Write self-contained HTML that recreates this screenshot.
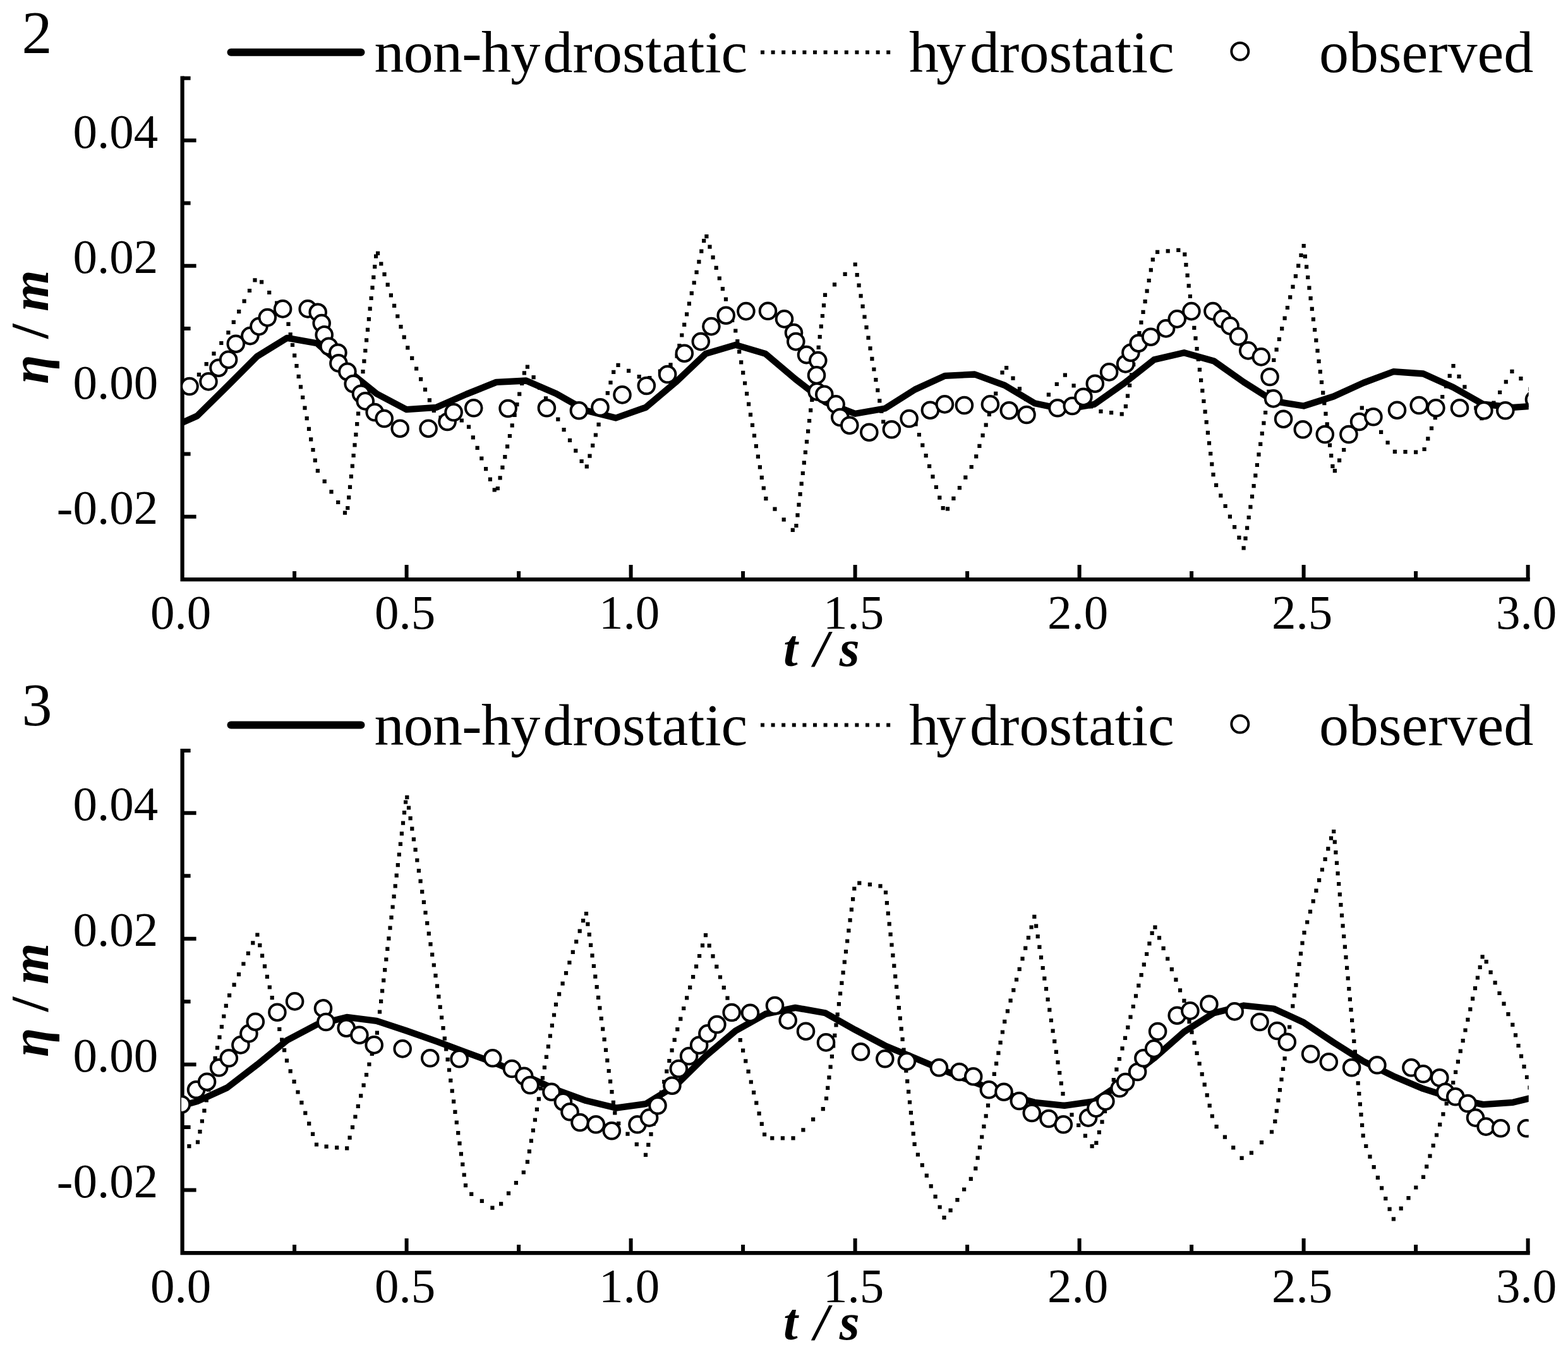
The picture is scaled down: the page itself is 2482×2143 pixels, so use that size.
<!DOCTYPE html>
<html lang="en">
<head>
<meta charset="utf-8">
<title>Free surface elevation at gauges 2 and 3: non-hydrostatic, hydrostatic and observed</title>
<style>
html,body{margin:0;padding:0;background:#fff;}
body{width:2482px;height:2143px;overflow:hidden;}
svg{display:block;}
text{font-family:"Liberation Serif","Times New Roman",Times,serif;fill:#000;}
.tk{font-size:77px;}
.lg{font-size:94px;}
.pl{font-size:96px;}
.xt{font-size:82px;font-weight:bold;font-style:italic;}
.yt{font-size:84px;font-weight:bold;font-style:italic;}
.up{font-style:normal;}
.obs circle{fill:#fff;stroke:#000;stroke-width:4;}
.non{fill:none;stroke:#000;stroke-width:10.3;stroke-linejoin:round;}
.hyd{fill:#000;}
</style>
</head>
<body>
<svg xmlns="http://www.w3.org/2000/svg" width="2482" height="2143" viewBox="0 0 2482 2143">
<rect width="2482" height="2143" fill="#fff"/>
<clipPath id="plot"><rect x="287" y="0" width="2132.7" height="2143"/></clipPath>
<g id="gauge2">
<path d="M288.6,120.6 V917.1 H2421.7" fill="none" stroke="#000" stroke-width="6.2" stroke-linejoin="miter"/>
<path d="M288.6,817.8h22M288.6,718.6h13M288.6,619.3h22M288.6,520h13M288.6,420.8h22M288.6,321.5h13M288.6,222.3h22M288.6,123.7h13M466.1,917.1v-13M643.6,917.1v-23M821.1,917.1v-13M998.6,917.1v-23M1176.1,917.1v-13M1353.6,917.1v-23M1531.1,917.1v-13M1708.6,917.1v-23M1886.1,917.1v-13M2063.6,917.1v-23M2241.1,917.1v-13M2418.6,917.1v-23" fill="none" stroke="#000" stroke-width="6.0"/>
<g class="tk" text-anchor="end">
<text x="250.2" y="233.6">0.04</text>
<text x="250.2" y="432.1">0.02</text>
<text x="250.2" y="630.6">0.00</text>
<text x="250.2" y="829.1">-0.02</text>
</g>
<g class="tk" text-anchor="middle">
<text x="286.1" y="994.7">0.0</text>
<text x="641.1" y="994.7">0.5</text>
<text x="996.1" y="994.7">1.0</text>
<text x="1351.1" y="994.7">1.5</text>
<text x="1706.1" y="994.7">2.0</text>
<text x="2061.1" y="994.7">2.5</text>
<text x="2416.1" y="994.7">3.0</text>
</g>
<text class="xt" x="1239.9 1265 1288.7 1312 1328.8" y="1053.8">t / s</text>
<text class="yt" transform="translate(76.3,607.7) rotate(-90)" x="0 43 71.8 95 115" y="0">η<tspan class="up"> / </tspan>m</text>
<text class="pl" x="34.5" y="83.7">2</text>
<line x1="365.5" y1="82.8" x2="571.5" y2="82.8" stroke="#000" stroke-width="12" stroke-linecap="round"/>
<text class="lg" y="113.8"><tspan x="592.5" textLength="262.7">non-hy</tspan><tspan x="859.6">drostatic</tspan></text>
<line x1="1204" y1="82.8" x2="1411" y2="82.8" stroke="#000" stroke-width="6" stroke-dasharray="6 10.6"/>
<text class="lg" y="113.8"><tspan x="1439.1" textLength="90">hy</tspan><tspan x="1535.1">drostatic</tspan></text>
<circle cx="1962.8" cy="81.3" r="13.5" fill="#fff" stroke="#000" stroke-width="4"/>
<text class="lg" x="2088" y="113.8">observed</text>
<g clip-path="url(#plot)">
<path class="hyd" d="M296.3,606.2h6.2v6.2h-6.2zM311.8,589.7h6.2v6.2h-6.2zM323.6,573.1h6.2v6.2h-6.2zM335.4,556.5h6.2v6.2h-6.2zM347.2,539.9h6.2v6.2h-6.2zM358.3,523.3h6.2v6.2h-6.2zM366.7,506.7h6.2v6.2h-6.2zM375.1,490.1h6.2v6.2h-6.2zM383.5,473.5h6.2v6.2h-6.2zM391.9,456.9h6.2v6.2h-6.2zM400.4,440.3h6.2v6.2h-6.2zM411,443.3h6.2v6.2h-6.2zM423.1,459.9h6.2v6.2h-6.2zM435.1,476.5h6.2v6.2h-6.2zM447.2,493.1h6.2v6.2h-6.2zM453.4,509.7h6.2v6.2h-6.2zM456.6,526.3h6.2v6.2h-6.2zM459.9,542.9h6.2v6.2h-6.2zM463.1,559.5h6.2v6.2h-6.2zM466.4,576.1h6.2v6.2h-6.2zM469.6,592.7h6.2v6.2h-6.2zM472.9,609.3h6.2v6.2h-6.2zM476.1,625.9h6.2v6.2h-6.2zM479.4,642.5h6.2v6.2h-6.2zM482.6,659.1h6.2v6.2h-6.2zM485.9,675.7h6.2v6.2h-6.2zM489.1,692.3h6.2v6.2h-6.2zM492.4,708.9h6.2v6.2h-6.2zM495.7,725.5h6.2v6.2h-6.2zM499.8,742.1h6.2v6.2h-6.2zM510.6,758.7h6.2v6.2h-6.2zM521.4,775.3h6.2v6.2h-6.2zM532.1,791.9h6.2v6.2h-6.2zM542.9,808.5h6.2v6.2h-6.2zM547.2,800.9h6.2v6.2h-6.2zM549.1,784.3h6.2v6.2h-6.2zM550.9,767.7h6.2v6.2h-6.2zM552.8,751.1h6.2v6.2h-6.2zM554.7,734.5h6.2v6.2h-6.2zM556.5,717.9h6.2v6.2h-6.2zM558.4,701.3h6.2v6.2h-6.2zM560.3,684.7h6.2v6.2h-6.2zM562.1,668.1h6.2v6.2h-6.2zM564,651.5h6.2v6.2h-6.2zM565.9,634.9h6.2v6.2h-6.2zM567.7,618.3h6.2v6.2h-6.2zM569.6,601.7h6.2v6.2h-6.2zM571.4,585.1h6.2v6.2h-6.2zM573.3,568.5h6.2v6.2h-6.2zM575.2,551.9h6.2v6.2h-6.2zM577,535.3h6.2v6.2h-6.2zM578.9,518.7h6.2v6.2h-6.2zM580.8,502.1h6.2v6.2h-6.2zM582.6,485.5h6.2v6.2h-6.2zM584.5,468.9h6.2v6.2h-6.2zM586.4,452.3h6.2v6.2h-6.2zM588.2,435.7h6.2v6.2h-6.2zM590.1,419.1h6.2v6.2h-6.2zM592,402.5h6.2v6.2h-6.2zM595,397.8h6.2v6.2h-6.2zM600.2,414.4h6.2v6.2h-6.2zM605.4,431h6.2v6.2h-6.2zM610.6,447.6h6.2v6.2h-6.2zM615.8,464.2h6.2v6.2h-6.2zM621,480.8h6.2v6.2h-6.2zM626.2,497.4h6.2v6.2h-6.2zM631.4,514h6.2v6.2h-6.2zM636.6,530.6h6.2v6.2h-6.2zM642.2,547.2h6.2v6.2h-6.2zM649.1,563.8h6.2v6.2h-6.2zM656,580.4h6.2v6.2h-6.2zM663,597h6.2v6.2h-6.2zM669.9,613.6h6.2v6.2h-6.2zM676.8,630.2h6.2v6.2h-6.2zM683.7,646.8h6.2v6.2h-6.2zM694.5,657.7h6.2v6.2h-6.2zM711.1,660h6.2v6.2h-6.2zM727.7,662.4h6.2v6.2h-6.2zM738.9,672.6h6.2v6.2h-6.2zM745.7,689.2h6.2v6.2h-6.2zM752.5,705.8h6.2v6.2h-6.2zM759.2,722.4h6.2v6.2h-6.2zM766,739h6.2v6.2h-6.2zM772.8,755.6h6.2v6.2h-6.2zM779.6,772.2h6.2v6.2h-6.2zM784.7,769.9h6.2v6.2h-6.2zM788.5,753.3h6.2v6.2h-6.2zM792.3,736.7h6.2v6.2h-6.2zM796.2,720.1h6.2v6.2h-6.2zM800,703.5h6.2v6.2h-6.2zM803.8,686.9h6.2v6.2h-6.2zM807.6,670.3h6.2v6.2h-6.2zM811.5,653.7h6.2v6.2h-6.2zM815.3,637.1h6.2v6.2h-6.2zM819.1,620.5h6.2v6.2h-6.2zM823,603.9h6.2v6.2h-6.2zM826.8,587.3h6.2v6.2h-6.2zM831.8,577.5h6.2v6.2h-6.2zM841.5,594.1h6.2v6.2h-6.2zM851.2,610.7h6.2v6.2h-6.2zM860.9,627.3h6.2v6.2h-6.2zM870.6,643.9h6.2v6.2h-6.2zM880.2,660.5h6.2v6.2h-6.2zM889.5,677.1h6.2v6.2h-6.2zM898.9,693.7h6.2v6.2h-6.2zM908.2,710.3h6.2v6.2h-6.2zM917.5,726.9h6.2v6.2h-6.2zM925.7,735.2h6.2v6.2h-6.2zM930.4,718.6h6.2v6.2h-6.2zM935.1,702h6.2v6.2h-6.2zM939.8,685.4h6.2v6.2h-6.2zM944.5,668.8h6.2v6.2h-6.2zM949.3,652.2h6.2v6.2h-6.2zM954,635.6h6.2v6.2h-6.2zM958.7,619h6.2v6.2h-6.2zM963.4,602.4h6.2v6.2h-6.2zM968.1,585.8h6.2v6.2h-6.2zM975.4,574.7h6.2v6.2h-6.2zM992,583.8h6.2v6.2h-6.2zM1008.6,593h6.2v6.2h-6.2zM1025.2,595h6.2v6.2h-6.2zM1041.8,584.6h6.2v6.2h-6.2zM1058.4,574.2h6.2v6.2h-6.2zM1068.5,560.6h6.2v6.2h-6.2zM1072.3,544h6.2v6.2h-6.2zM1076.2,527.4h6.2v6.2h-6.2zM1080.1,510.8h6.2v6.2h-6.2zM1084,494.2h6.2v6.2h-6.2zM1087.8,477.6h6.2v6.2h-6.2zM1091.7,461h6.2v6.2h-6.2zM1095.6,444.4h6.2v6.2h-6.2zM1099.5,427.8h6.2v6.2h-6.2zM1103.3,411.2h6.2v6.2h-6.2zM1107.2,394.6h6.2v6.2h-6.2zM1111.1,378h6.2v6.2h-6.2zM1115.3,371h6.2v6.2h-6.2zM1120.4,387.6h6.2v6.2h-6.2zM1125.5,404.2h6.2v6.2h-6.2zM1130.6,420.8h6.2v6.2h-6.2zM1135.7,437.4h6.2v6.2h-6.2zM1140.8,454h6.2v6.2h-6.2zM1145.9,470.6h6.2v6.2h-6.2zM1151,487.2h6.2v6.2h-6.2zM1156.1,503.8h6.2v6.2h-6.2zM1161.2,520.4h6.2v6.2h-6.2zM1164.2,537h6.2v6.2h-6.2zM1167.1,553.6h6.2v6.2h-6.2zM1170.1,570.2h6.2v6.2h-6.2zM1173.1,586.8h6.2v6.2h-6.2zM1176,603.4h6.2v6.2h-6.2zM1179,620h6.2v6.2h-6.2zM1182,636.6h6.2v6.2h-6.2zM1184.9,653.2h6.2v6.2h-6.2zM1187.9,669.8h6.2v6.2h-6.2zM1190.9,686.4h6.2v6.2h-6.2zM1193.8,703h6.2v6.2h-6.2zM1196.8,719.6h6.2v6.2h-6.2zM1199.8,736.2h6.2v6.2h-6.2zM1202.7,752.8h6.2v6.2h-6.2zM1205.7,769.4h6.2v6.2h-6.2zM1209.3,786h6.2v6.2h-6.2zM1223.4,802.6h6.2v6.2h-6.2zM1237.6,819.2h6.2v6.2h-6.2zM1251.7,835.8h6.2v6.2h-6.2zM1257.3,828.9h6.2v6.2h-6.2zM1259.4,812.3h6.2v6.2h-6.2zM1261.4,795.7h6.2v6.2h-6.2zM1263.5,779.1h6.2v6.2h-6.2zM1265.6,762.5h6.2v6.2h-6.2zM1267.7,745.9h6.2v6.2h-6.2zM1269.7,729.3h6.2v6.2h-6.2zM1271.8,712.7h6.2v6.2h-6.2zM1273.9,696.1h6.2v6.2h-6.2zM1276,679.5h6.2v6.2h-6.2zM1278,662.9h6.2v6.2h-6.2zM1280.1,646.3h6.2v6.2h-6.2zM1282.2,629.7h6.2v6.2h-6.2zM1284.3,613.1h6.2v6.2h-6.2zM1286.3,596.5h6.2v6.2h-6.2zM1288.4,579.9h6.2v6.2h-6.2zM1290.5,563.3h6.2v6.2h-6.2zM1292.6,546.7h6.2v6.2h-6.2zM1294.6,530.1h6.2v6.2h-6.2zM1296.7,513.5h6.2v6.2h-6.2zM1298.8,496.9h6.2v6.2h-6.2zM1300.9,480.3h6.2v6.2h-6.2zM1302.9,463.7h6.2v6.2h-6.2zM1317.9,447.2h6.2v6.2h-6.2zM1334.5,430.8h6.2v6.2h-6.2zM1350.6,415.4h6.2v6.2h-6.2zM1353.6,432h6.2v6.2h-6.2zM1356.5,448.6h6.2v6.2h-6.2zM1359.5,465.2h6.2v6.2h-6.2zM1362.5,481.8h6.2v6.2h-6.2zM1365.4,498.4h6.2v6.2h-6.2zM1368.4,515h6.2v6.2h-6.2zM1371.4,531.6h6.2v6.2h-6.2zM1374.4,548.2h6.2v6.2h-6.2zM1377.3,564.8h6.2v6.2h-6.2zM1380.3,581.4h6.2v6.2h-6.2zM1383.3,598h6.2v6.2h-6.2zM1386.2,614.6h6.2v6.2h-6.2zM1389.2,631.2h6.2v6.2h-6.2zM1392.2,647.8h6.2v6.2h-6.2zM1395.1,664.4h6.2v6.2h-6.2zM1399.3,679.1h6.2v6.2h-6.2zM1415.9,673.8h6.2v6.2h-6.2zM1432.5,668.5h6.2v6.2h-6.2zM1446.4,668.3h6.2v6.2h-6.2zM1451.8,684.9h6.2v6.2h-6.2zM1457.2,701.5h6.2v6.2h-6.2zM1462.6,718.1h6.2v6.2h-6.2zM1468,734.7h6.2v6.2h-6.2zM1473.4,751.3h6.2v6.2h-6.2zM1478.8,767.9h6.2v6.2h-6.2zM1484.2,784.5h6.2v6.2h-6.2zM1489.6,801.1h6.2v6.2h-6.2zM1496.9,802.3h6.2v6.2h-6.2zM1506.3,785.7h6.2v6.2h-6.2zM1515.8,769.1h6.2v6.2h-6.2zM1525.2,752.5h6.2v6.2h-6.2zM1534.6,735.9h6.2v6.2h-6.2zM1542.1,719.3h6.2v6.2h-6.2zM1547.3,702.7h6.2v6.2h-6.2zM1552.5,686.1h6.2v6.2h-6.2zM1557.6,669.5h6.2v6.2h-6.2zM1562.8,652.9h6.2v6.2h-6.2zM1568,636.3h6.2v6.2h-6.2zM1573.1,619.7h6.2v6.2h-6.2zM1578.3,603.1h6.2v6.2h-6.2zM1583.4,586.5h6.2v6.2h-6.2zM1590,579h6.2v6.2h-6.2zM1600.4,595.6h6.2v6.2h-6.2zM1610.8,612.2h6.2v6.2h-6.2zM1621.2,628.8h6.2v6.2h-6.2zM1631.6,645.4h6.2v6.2h-6.2zM1643.8,638.1h6.2v6.2h-6.2zM1656.8,621.5h6.2v6.2h-6.2zM1669.7,604.9h6.2v6.2h-6.2zM1682.8,590.6h6.2v6.2h-6.2zM1696.5,607.2h6.2v6.2h-6.2zM1710.2,623.8h6.2v6.2h-6.2zM1723.9,640.4h6.2v6.2h-6.2zM1739.4,648h6.2v6.2h-6.2zM1756,650.1h6.2v6.2h-6.2zM1772.6,652.2h6.2v6.2h-6.2zM1778.8,640.1h6.2v6.2h-6.2zM1781.9,623.5h6.2v6.2h-6.2zM1785,606.9h6.2v6.2h-6.2zM1788,590.3h6.2v6.2h-6.2zM1791.1,573.7h6.2v6.2h-6.2zM1794.2,557.1h6.2v6.2h-6.2zM1797.2,540.5h6.2v6.2h-6.2zM1800.3,523.9h6.2v6.2h-6.2zM1803.3,507.3h6.2v6.2h-6.2zM1806.4,490.7h6.2v6.2h-6.2zM1809.5,474.1h6.2v6.2h-6.2zM1812.5,457.5h6.2v6.2h-6.2zM1815.6,440.9h6.2v6.2h-6.2zM1818.7,424.3h6.2v6.2h-6.2zM1821.7,407.7h6.2v6.2h-6.2zM1829,395.7h6.2v6.2h-6.2zM1845.6,394.2h6.2v6.2h-6.2zM1862.2,392.7h6.2v6.2h-6.2zM1872.2,399.5h6.2v6.2h-6.2zM1874.3,416.1h6.2v6.2h-6.2zM1876.5,432.7h6.2v6.2h-6.2zM1878.6,449.3h6.2v6.2h-6.2zM1880.8,465.9h6.2v6.2h-6.2zM1882.9,482.5h6.2v6.2h-6.2zM1885.1,499.1h6.2v6.2h-6.2zM1887.2,515.7h6.2v6.2h-6.2zM1889.4,532.3h6.2v6.2h-6.2zM1891.5,548.9h6.2v6.2h-6.2zM1893.7,565.5h6.2v6.2h-6.2zM1895.8,582.1h6.2v6.2h-6.2zM1898,598.7h6.2v6.2h-6.2zM1900.2,615.3h6.2v6.2h-6.2zM1902.3,631.9h6.2v6.2h-6.2zM1904.5,648.5h6.2v6.2h-6.2zM1906.6,665.1h6.2v6.2h-6.2zM1908.8,681.7h6.2v6.2h-6.2zM1910.9,698.3h6.2v6.2h-6.2zM1913.1,714.9h6.2v6.2h-6.2zM1915.2,731.5h6.2v6.2h-6.2zM1917.4,748.1h6.2v6.2h-6.2zM1922,764.7h6.2v6.2h-6.2zM1929.2,781.3h6.2v6.2h-6.2zM1936.5,797.9h6.2v6.2h-6.2zM1943.8,814.5h6.2v6.2h-6.2zM1951,831.1h6.2v6.2h-6.2zM1958.3,847.7h6.2v6.2h-6.2zM1965.5,864.3h6.2v6.2h-6.2zM1968.4,849.1h6.2v6.2h-6.2zM1971,832.5h6.2v6.2h-6.2zM1973.6,815.9h6.2v6.2h-6.2zM1976.3,799.3h6.2v6.2h-6.2zM1978.9,782.7h6.2v6.2h-6.2zM1981.5,766.1h6.2v6.2h-6.2zM1984.2,749.5h6.2v6.2h-6.2zM1986.8,732.9h6.2v6.2h-6.2zM1989.4,716.3h6.2v6.2h-6.2zM1992.1,699.7h6.2v6.2h-6.2zM1994.7,683.1h6.2v6.2h-6.2zM1997.3,666.5h6.2v6.2h-6.2zM2000,649.9h6.2v6.2h-6.2zM2002.6,633.3h6.2v6.2h-6.2zM2005.2,616.7h6.2v6.2h-6.2zM2007.9,600.1h6.2v6.2h-6.2zM2010.5,583.5h6.2v6.2h-6.2zM2013.2,566.9h6.2v6.2h-6.2zM2017.5,550.3h6.2v6.2h-6.2zM2021.8,533.7h6.2v6.2h-6.2zM2026.1,517.1h6.2v6.2h-6.2zM2030.5,500.5h6.2v6.2h-6.2zM2034.8,483.9h6.2v6.2h-6.2zM2039.1,467.3h6.2v6.2h-6.2zM2043.4,450.7h6.2v6.2h-6.2zM2047.8,434.1h6.2v6.2h-6.2zM2052.1,417.5h6.2v6.2h-6.2zM2056.4,400.9h6.2v6.2h-6.2zM2060.6,386.1h6.2v6.2h-6.2zM2062.8,402.7h6.2v6.2h-6.2zM2065,419.3h6.2v6.2h-6.2zM2067.1,435.9h6.2v6.2h-6.2zM2069.3,452.5h6.2v6.2h-6.2zM2071.5,469.1h6.2v6.2h-6.2zM2073.7,485.7h6.2v6.2h-6.2zM2075.8,502.3h6.2v6.2h-6.2zM2078,518.9h6.2v6.2h-6.2zM2080.2,535.5h6.2v6.2h-6.2zM2082.4,552.1h6.2v6.2h-6.2zM2084.5,568.7h6.2v6.2h-6.2zM2086.7,585.3h6.2v6.2h-6.2zM2088.9,601.9h6.2v6.2h-6.2zM2091.1,618.5h6.2v6.2h-6.2zM2093.2,635.1h6.2v6.2h-6.2zM2095.4,651.7h6.2v6.2h-6.2zM2097.6,668.3h6.2v6.2h-6.2zM2099.7,684.9h6.2v6.2h-6.2zM2101.9,701.5h6.2v6.2h-6.2zM2104.1,718.1h6.2v6.2h-6.2zM2106.3,734.7h6.2v6.2h-6.2zM2109.8,742.1h6.2v6.2h-6.2zM2117,725.5h6.2v6.2h-6.2zM2124.1,708.9h6.2v6.2h-6.2zM2131.3,692.3h6.2v6.2h-6.2zM2138.4,675.7h6.2v6.2h-6.2zM2145.6,659.1h6.2v6.2h-6.2zM2152.7,642.5h6.2v6.2h-6.2zM2162,647.6h6.2v6.2h-6.2zM2172.5,664.2h6.2v6.2h-6.2zM2183,680.8h6.2v6.2h-6.2zM2193.5,697.4h6.2v6.2h-6.2zM2204.8,711.8h6.2v6.2h-6.2zM2221.4,712.1h6.2v6.2h-6.2zM2238,712.5h6.2v6.2h-6.2zM2251.5,707.9h6.2v6.2h-6.2zM2257.2,691.3h6.2v6.2h-6.2zM2262.9,674.7h6.2v6.2h-6.2zM2268.7,658.1h6.2v6.2h-6.2zM2274.4,641.5h6.2v6.2h-6.2zM2280.1,624.9h6.2v6.2h-6.2zM2285.9,608.3h6.2v6.2h-6.2zM2291.6,591.7h6.2v6.2h-6.2zM2297.4,576.1h6.2v6.2h-6.2zM2306.4,592.7h6.2v6.2h-6.2zM2315.3,609.3h6.2v6.2h-6.2zM2324.3,625.9h6.2v6.2h-6.2zM2333.2,642.5h6.2v6.2h-6.2zM2342.2,659.1h6.2v6.2h-6.2zM2351.7,651.1h6.2v6.2h-6.2zM2361.3,634.5h6.2v6.2h-6.2zM2371,617.9h6.2v6.2h-6.2zM2380.7,601.3h6.2v6.2h-6.2zM2390.3,584.7h6.2v6.2h-6.2zM2404.3,596.1h6.2v6.2h-6.2zM2419.2,612.7h6.2v6.2h-6.2zM2434,629.3h6.2v6.2h-6.2z"/>
<polyline class="non" points="288.6,668.9 312.3,658.2 359.6,611.5 406.9,564.1 454.3,534.9 501.6,543.2 548.9,584.9 596.3,623.2 643.6,648.2 690.9,644.8 738.3,623.9 785.6,604.9 832.9,602.5 880.3,622.9 927.6,649.8 974.9,661.5 1022.3,644.8 1069.6,604.9 1116.9,559.9 1164.3,545.9 1211.6,559.9 1258.9,599.9 1306.3,636.5 1353.6,654.8 1400.9,646.5 1448.3,616.5 1495.6,594.9 1542.9,592.5 1590.3,609.9 1637.6,638.2 1684.9,648.2 1732.3,639.9 1779.6,606.5 1826.9,569.2 1874.3,558.2 1921.6,571.5 1968.9,604.9 2016.3,634.9 2063.6,642.5 2110.9,627.5 2158.3,605.9 2205.6,588.2 2252.9,591.5 2300.3,613 2347.6,639.7 2394.9,644.8 2442.3,641.5"/>
<g class="obs">
<circle cx="300" cy="611.5" r="12.8"/>
<circle cx="330" cy="603.9" r="12.8"/>
<circle cx="346" cy="582.2" r="12.8"/>
<circle cx="361.6" cy="569.2" r="12.8"/>
<circle cx="373.3" cy="544.2" r="12.8"/>
<circle cx="395.9" cy="531.6" r="12.8"/>
<circle cx="409.9" cy="516.6" r="12.8"/>
<circle cx="423.3" cy="502.6" r="12.8"/>
<circle cx="447.6" cy="488.9" r="12.8"/>
<circle cx="487.2" cy="488.9" r="12.8"/>
<circle cx="503.2" cy="494.3" r="12.8"/>
<circle cx="509.2" cy="511.6" r="12.8"/>
<circle cx="513.2" cy="529.9" r="12.8"/>
<circle cx="520.5" cy="548.2" r="12.8"/>
<circle cx="534.9" cy="558.2" r="12.8"/>
<circle cx="535.9" cy="574.9" r="12.8"/>
<circle cx="549.9" cy="588.2" r="12.8"/>
<circle cx="559.2" cy="607.5" r="12.8"/>
<circle cx="571.5" cy="623.2" r="12.8"/>
<circle cx="578.2" cy="634.9" r="12.8"/>
<circle cx="593.2" cy="652.5" r="12.8"/>
<circle cx="608.2" cy="662.5" r="12.8"/>
<circle cx="633.2" cy="678.2" r="12.8"/>
<circle cx="678.1" cy="678.2" r="12.8"/>
<circle cx="708.1" cy="667.5" r="12.8"/>
<circle cx="718.1" cy="652.5" r="12.8"/>
<circle cx="749.8" cy="645.8" r="12.8"/>
<circle cx="804.1" cy="646.5" r="12.8"/>
<circle cx="865.4" cy="645.8" r="12.8"/>
<circle cx="916.4" cy="649.8" r="12.8"/>
<circle cx="950" cy="644.8" r="12.8"/>
<circle cx="985" cy="624.9" r="12.8"/>
<circle cx="1023.3" cy="610.5" r="12.8"/>
<circle cx="1056.6" cy="592.5" r="12.8"/>
<circle cx="1083.3" cy="559.2" r="12.8"/>
<circle cx="1109.3" cy="540.6" r="12.8"/>
<circle cx="1125.9" cy="516.6" r="12.8"/>
<circle cx="1149.2" cy="499.3" r="12.8"/>
<circle cx="1180.9" cy="492.6" r="12.8"/>
<circle cx="1215.5" cy="492.3" r="12.8"/>
<circle cx="1241.5" cy="504.9" r="12.8"/>
<circle cx="1256.5" cy="526.6" r="12.8"/>
<circle cx="1259.8" cy="540.6" r="12.8"/>
<circle cx="1276.5" cy="561.6" r="12.8"/>
<circle cx="1294.8" cy="570.6" r="12.8"/>
<circle cx="1292.5" cy="593.9" r="12.8"/>
<circle cx="1293.2" cy="619.9" r="12.8"/>
<circle cx="1304.8" cy="624.2" r="12.8"/>
<circle cx="1323.1" cy="639.9" r="12.8"/>
<circle cx="1329.8" cy="660.5" r="12.8"/>
<circle cx="1344.8" cy="673.2" r="12.8"/>
<circle cx="1375.8" cy="684.2" r="12.8"/>
<circle cx="1411.4" cy="679.8" r="12.8"/>
<circle cx="1439.1" cy="662.5" r="12.8"/>
<circle cx="1472.4" cy="649.2" r="12.8"/>
<circle cx="1495.4" cy="639.9" r="12.8"/>
<circle cx="1526.4" cy="641.5" r="12.8"/>
<circle cx="1567.4" cy="639.9" r="12.8"/>
<circle cx="1597.3" cy="649.8" r="12.8"/>
<circle cx="1625" cy="656.5" r="12.8"/>
<circle cx="1674" cy="645.8" r="12.8"/>
<circle cx="1697.3" cy="642.5" r="12.8"/>
<circle cx="1714.9" cy="628.2" r="12.8"/>
<circle cx="1733.3" cy="607.2" r="12.8"/>
<circle cx="1755.6" cy="588.9" r="12.8"/>
<circle cx="1781.6" cy="575.9" r="12.8"/>
<circle cx="1789.9" cy="558.2" r="12.8"/>
<circle cx="1802.2" cy="543.2" r="12.8"/>
<circle cx="1821.6" cy="533.2" r="12.8"/>
<circle cx="1845.6" cy="519.9" r="12.8"/>
<circle cx="1863.2" cy="504.9" r="12.8"/>
<circle cx="1885.9" cy="492.6" r="12.8"/>
<circle cx="1919.9" cy="492.6" r="12.8"/>
<circle cx="1934.8" cy="504.9" r="12.8"/>
<circle cx="1947.2" cy="515.9" r="12.8"/>
<circle cx="1960.5" cy="532.6" r="12.8"/>
<circle cx="1975.7" cy="554.9" r="12.8"/>
<circle cx="1996.3" cy="564.9" r="12.8"/>
<circle cx="2010" cy="596.5" r="12.8"/>
<circle cx="2015.6" cy="630.9" r="12.8"/>
<circle cx="2031.6" cy="663.2" r="12.8"/>
<circle cx="2062.3" cy="679.8" r="12.8"/>
<circle cx="2097.3" cy="687.5" r="12.8"/>
<circle cx="2134.9" cy="687.5" r="12.8"/>
<circle cx="2151.6" cy="667.5" r="12.8"/>
<circle cx="2173.9" cy="659.8" r="12.8"/>
<circle cx="2211.5" cy="649.2" r="12.8"/>
<circle cx="2246.2" cy="641.5" r="12.8"/>
<circle cx="2272.9" cy="645.8" r="12.8"/>
<circle cx="2310.5" cy="645.8" r="12.8"/>
<circle cx="2348.8" cy="649.8" r="12.8"/>
<circle cx="2382.8" cy="649.8" r="12.8"/>
<circle cx="2428.5" cy="632.5" r="12.8"/>
</g>
</g>
</g>
<g id="gauge3">
<path d="M288.6,1184.9 V1983.1 H2421.7" fill="none" stroke="#000" stroke-width="6.2" stroke-linejoin="miter"/>
<path d="M288.6,1883.6h22M288.6,1784.1h13M288.6,1684.7h22M288.6,1585.2h13M288.6,1485.7h22M288.6,1386.2h13M288.6,1286.8h22M288.6,1188h13M466.1,1983.1v-13M643.6,1983.1v-23M821.1,1983.1v-13M998.6,1983.1v-23M1176.1,1983.1v-13M1353.6,1983.1v-23M1531.1,1983.1v-13M1708.6,1983.1v-23M1886.1,1983.1v-13M2063.6,1983.1v-23M2241.1,1983.1v-13M2418.6,1983.1v-23" fill="none" stroke="#000" stroke-width="6.0"/>
<g class="tk" text-anchor="end">
<text x="250.2" y="1298.1">0.04</text>
<text x="250.2" y="1497">0.02</text>
<text x="250.2" y="1696">0.00</text>
<text x="250.2" y="1894.9">-0.02</text>
</g>
<g class="tk" text-anchor="middle">
<text x="286.1" y="2060.7">0.0</text>
<text x="641.1" y="2060.7">0.5</text>
<text x="996.1" y="2060.7">1.0</text>
<text x="1351.1" y="2060.7">1.5</text>
<text x="1706.1" y="2060.7">2.0</text>
<text x="2061.1" y="2060.7">2.5</text>
<text x="2416.1" y="2060.7">3.0</text>
</g>
<text class="xt" x="1239.9 1265 1288.7 1312 1328.8" y="2119.8">t / s</text>
<text class="yt" transform="translate(76.3,1673) rotate(-90)" x="0 43 71.8 95 115" y="0">η<tspan class="up"> / </tspan>m</text>
<text class="pl" x="34.5" y="1148.4">3</text>
<line x1="365.5" y1="1147.5" x2="571.5" y2="1147.5" stroke="#000" stroke-width="12" stroke-linecap="round"/>
<text class="lg" y="1178.5"><tspan x="592.5" textLength="262.7">non-hy</tspan><tspan x="859.6">drostatic</tspan></text>
<line x1="1204" y1="1147.5" x2="1411" y2="1147.5" stroke="#000" stroke-width="6" stroke-dasharray="6 10.6"/>
<text class="lg" y="1178.5"><tspan x="1439.1" textLength="90">hy</tspan><tspan x="1535.1">drostatic</tspan></text>
<circle cx="1962.8" cy="1146" r="13.5" fill="#fff" stroke="#000" stroke-width="4"/>
<text class="lg" x="2088" y="1178.5">observed</text>
<g clip-path="url(#plot)">
<path class="hyd" d="M296.3,1811.1h6.2v6.2h-6.2zM309.9,1804.6h6.2v6.2h-6.2zM313.4,1788h6.2v6.2h-6.2zM316.8,1771.4h6.2v6.2h-6.2zM320.3,1754.8h6.2v6.2h-6.2zM323.7,1738.2h6.2v6.2h-6.2zM327.1,1721.6h6.2v6.2h-6.2zM330.6,1705h6.2v6.2h-6.2zM334,1688.4h6.2v6.2h-6.2zM337.5,1671.8h6.2v6.2h-6.2zM340.9,1655.2h6.2v6.2h-6.2zM344.4,1638.6h6.2v6.2h-6.2zM347.8,1622h6.2v6.2h-6.2zM351.2,1605.4h6.2v6.2h-6.2zM354.7,1588.8h6.2v6.2h-6.2zM360,1572.2h6.2v6.2h-6.2zM367.5,1555.6h6.2v6.2h-6.2zM374.9,1539h6.2v6.2h-6.2zM382.3,1522.4h6.2v6.2h-6.2zM389.8,1505.8h6.2v6.2h-6.2zM397.2,1489.2h6.2v6.2h-6.2zM404.3,1476.4h6.2v6.2h-6.2zM408.2,1493h6.2v6.2h-6.2zM412,1509.6h6.2v6.2h-6.2zM415.9,1526.2h6.2v6.2h-6.2zM419.8,1542.8h6.2v6.2h-6.2zM423.7,1559.4h6.2v6.2h-6.2zM427.6,1576h6.2v6.2h-6.2zM431.5,1592.6h6.2v6.2h-6.2zM435.4,1609.2h6.2v6.2h-6.2zM439.2,1625.8h6.2v6.2h-6.2zM443.1,1642.4h6.2v6.2h-6.2zM447,1659h6.2v6.2h-6.2zM450.9,1675.6h6.2v6.2h-6.2zM456.6,1692.2h6.2v6.2h-6.2zM462.5,1708.8h6.2v6.2h-6.2zM468.4,1725.4h6.2v6.2h-6.2zM474.3,1742h6.2v6.2h-6.2zM480.2,1758.6h6.2v6.2h-6.2zM486.1,1775.2h6.2v6.2h-6.2zM492,1791.8h6.2v6.2h-6.2zM497.9,1808.4h6.2v6.2h-6.2zM513.5,1811.6h6.2v6.2h-6.2zM530.1,1813.3h6.2v6.2h-6.2zM546.1,1814.2h6.2v6.2h-6.2zM550.5,1797.6h6.2v6.2h-6.2zM554.9,1781h6.2v6.2h-6.2zM559.3,1764.4h6.2v6.2h-6.2zM563.7,1747.8h6.2v6.2h-6.2zM568.1,1731.2h6.2v6.2h-6.2zM572.5,1714.6h6.2v6.2h-6.2zM576.9,1698h6.2v6.2h-6.2zM581.3,1681.4h6.2v6.2h-6.2zM585.7,1664.8h6.2v6.2h-6.2zM590.1,1648.2h6.2v6.2h-6.2zM593.8,1631.6h6.2v6.2h-6.2zM595.9,1615h6.2v6.2h-6.2zM597.9,1598.4h6.2v6.2h-6.2zM600,1581.8h6.2v6.2h-6.2zM602,1565.2h6.2v6.2h-6.2zM604.1,1548.6h6.2v6.2h-6.2zM606.1,1532h6.2v6.2h-6.2zM608.2,1515.4h6.2v6.2h-6.2zM610.2,1498.8h6.2v6.2h-6.2zM612.3,1482.2h6.2v6.2h-6.2zM614.4,1465.6h6.2v6.2h-6.2zM616.4,1449h6.2v6.2h-6.2zM618.5,1432.4h6.2v6.2h-6.2zM620.5,1415.8h6.2v6.2h-6.2zM622.6,1399.2h6.2v6.2h-6.2zM624.6,1382.6h6.2v6.2h-6.2zM626.7,1366h6.2v6.2h-6.2zM628.7,1349.4h6.2v6.2h-6.2zM630.8,1332.8h6.2v6.2h-6.2zM632.8,1316.2h6.2v6.2h-6.2zM634.9,1299.6h6.2v6.2h-6.2zM636.9,1283h6.2v6.2h-6.2zM639,1266.4h6.2v6.2h-6.2zM641.2,1258.8h6.2v6.2h-6.2zM643.9,1275.4h6.2v6.2h-6.2zM646.5,1292h6.2v6.2h-6.2zM649.2,1308.6h6.2v6.2h-6.2zM651.8,1325.2h6.2v6.2h-6.2zM654.5,1341.8h6.2v6.2h-6.2zM657.2,1358.4h6.2v6.2h-6.2zM659.8,1375h6.2v6.2h-6.2zM662.5,1391.6h6.2v6.2h-6.2zM665.1,1408.2h6.2v6.2h-6.2zM667.8,1424.8h6.2v6.2h-6.2zM670.4,1441.4h6.2v6.2h-6.2zM673.1,1458h6.2v6.2h-6.2zM675.7,1474.6h6.2v6.2h-6.2zM678.4,1491.2h6.2v6.2h-6.2zM681.1,1507.8h6.2v6.2h-6.2zM683.7,1524.4h6.2v6.2h-6.2zM686.4,1541h6.2v6.2h-6.2zM688.9,1557.6h6.2v6.2h-6.2zM691.3,1574.2h6.2v6.2h-6.2zM693.6,1590.8h6.2v6.2h-6.2zM696,1607.4h6.2v6.2h-6.2zM698.4,1624h6.2v6.2h-6.2zM700.7,1640.6h6.2v6.2h-6.2zM703.1,1657.2h6.2v6.2h-6.2zM705.5,1673.8h6.2v6.2h-6.2zM707.9,1690.4h6.2v6.2h-6.2zM710.2,1707h6.2v6.2h-6.2zM712.6,1723.6h6.2v6.2h-6.2zM715,1740.2h6.2v6.2h-6.2zM717.3,1756.8h6.2v6.2h-6.2zM719.7,1773.4h6.2v6.2h-6.2zM722.1,1790h6.2v6.2h-6.2zM724.4,1806.6h6.2v6.2h-6.2zM726.8,1823.2h6.2v6.2h-6.2zM729.2,1839.8h6.2v6.2h-6.2zM731.6,1856.4h6.2v6.2h-6.2zM733.9,1873h6.2v6.2h-6.2zM743.1,1886.8h6.2v6.2h-6.2zM759.7,1897.7h6.2v6.2h-6.2zM776.3,1908.6h6.2v6.2h-6.2zM790,1902.2h6.2v6.2h-6.2zM801.9,1885.6h6.2v6.2h-6.2zM813.8,1869h6.2v6.2h-6.2zM825.7,1852.4h6.2v6.2h-6.2zM831.8,1835.8h6.2v6.2h-6.2zM834.8,1819.2h6.2v6.2h-6.2zM837.8,1802.6h6.2v6.2h-6.2zM840.8,1786h6.2v6.2h-6.2zM843.8,1769.4h6.2v6.2h-6.2zM846.8,1752.8h6.2v6.2h-6.2zM849.8,1736.2h6.2v6.2h-6.2zM852.8,1719.6h6.2v6.2h-6.2zM855.8,1703h6.2v6.2h-6.2zM858.8,1686.4h6.2v6.2h-6.2zM861.8,1669.8h6.2v6.2h-6.2zM864.8,1653.2h6.2v6.2h-6.2zM867.8,1636.6h6.2v6.2h-6.2zM870.8,1620h6.2v6.2h-6.2zM873.9,1603.4h6.2v6.2h-6.2zM876.9,1586.8h6.2v6.2h-6.2zM882,1570.2h6.2v6.2h-6.2zM887.5,1553.6h6.2v6.2h-6.2zM892.9,1537h6.2v6.2h-6.2zM898.3,1520.4h6.2v6.2h-6.2zM903.7,1503.8h6.2v6.2h-6.2zM909.1,1487.2h6.2v6.2h-6.2zM914.6,1470.6h6.2v6.2h-6.2zM920,1454h6.2v6.2h-6.2zM924.9,1442.9h6.2v6.2h-6.2zM927.3,1459.5h6.2v6.2h-6.2zM929.7,1476.1h6.2v6.2h-6.2zM932,1492.7h6.2v6.2h-6.2zM934.4,1509.3h6.2v6.2h-6.2zM936.8,1525.9h6.2v6.2h-6.2zM939.2,1542.5h6.2v6.2h-6.2zM941.6,1559.1h6.2v6.2h-6.2zM944,1575.7h6.2v6.2h-6.2zM946.3,1592.3h6.2v6.2h-6.2zM948.7,1608.9h6.2v6.2h-6.2zM951.1,1625.5h6.2v6.2h-6.2zM953.5,1642.1h6.2v6.2h-6.2zM955.9,1658.7h6.2v6.2h-6.2zM958.2,1675.3h6.2v6.2h-6.2zM960.6,1691.9h6.2v6.2h-6.2zM963,1708.5h6.2v6.2h-6.2zM965.4,1725.1h6.2v6.2h-6.2zM967.8,1741.7h6.2v6.2h-6.2zM970.2,1758.3h6.2v6.2h-6.2zM976.1,1774.9h6.2v6.2h-6.2zM990.4,1791.5h6.2v6.2h-6.2zM1004.7,1808.1h6.2v6.2h-6.2zM1018.9,1824.7h6.2v6.2h-6.2zM1023.2,1808.7h6.2v6.2h-6.2zM1027.4,1792.1h6.2v6.2h-6.2zM1031.5,1775.5h6.2v6.2h-6.2zM1035.7,1758.9h6.2v6.2h-6.2zM1039.8,1742.3h6.2v6.2h-6.2zM1043.9,1725.7h6.2v6.2h-6.2zM1048.1,1709.1h6.2v6.2h-6.2zM1052.2,1692.5h6.2v6.2h-6.2zM1056.3,1675.9h6.2v6.2h-6.2zM1060.5,1659.3h6.2v6.2h-6.2zM1064.6,1642.7h6.2v6.2h-6.2zM1069.2,1626.1h6.2v6.2h-6.2zM1074.2,1609.5h6.2v6.2h-6.2zM1079.1,1592.9h6.2v6.2h-6.2zM1084.1,1576.3h6.2v6.2h-6.2zM1089.1,1559.7h6.2v6.2h-6.2zM1094,1543.1h6.2v6.2h-6.2zM1099,1526.5h6.2v6.2h-6.2zM1104,1509.9h6.2v6.2h-6.2zM1108.9,1493.3h6.2v6.2h-6.2zM1113.9,1477h6.2v6.2h-6.2zM1119.6,1493.6h6.2v6.2h-6.2zM1125.4,1510.2h6.2v6.2h-6.2zM1131.2,1526.8h6.2v6.2h-6.2zM1136.9,1543.4h6.2v6.2h-6.2zM1142.7,1560h6.2v6.2h-6.2zM1148.4,1576.6h6.2v6.2h-6.2zM1154.2,1593.2h6.2v6.2h-6.2zM1159.9,1609.8h6.2v6.2h-6.2zM1164.5,1626.4h6.2v6.2h-6.2zM1168.7,1643h6.2v6.2h-6.2zM1173,1659.6h6.2v6.2h-6.2zM1177.2,1676.2h6.2v6.2h-6.2zM1181.5,1692.8h6.2v6.2h-6.2zM1185.7,1709.4h6.2v6.2h-6.2zM1190,1726h6.2v6.2h-6.2zM1194.2,1742.6h6.2v6.2h-6.2zM1198.5,1759.2h6.2v6.2h-6.2zM1202.7,1775.8h6.2v6.2h-6.2zM1207,1792.4h6.2v6.2h-6.2zM1219.2,1798.3h6.2v6.2h-6.2zM1235.8,1798.3h6.2v6.2h-6.2zM1252.4,1798.3h6.2v6.2h-6.2zM1268.3,1785.2h6.2v6.2h-6.2zM1284,1768.6h6.2v6.2h-6.2zM1299.7,1752h6.2v6.2h-6.2zM1304.9,1735.4h6.2v6.2h-6.2zM1307.1,1718.8h6.2v6.2h-6.2zM1309.3,1702.2h6.2v6.2h-6.2zM1311.5,1685.6h6.2v6.2h-6.2zM1313.8,1669h6.2v6.2h-6.2zM1316,1652.4h6.2v6.2h-6.2zM1318.2,1635.8h6.2v6.2h-6.2zM1320.4,1619.2h6.2v6.2h-6.2zM1322.6,1602.6h6.2v6.2h-6.2zM1324.8,1586h6.2v6.2h-6.2zM1327,1569.4h6.2v6.2h-6.2zM1329.3,1552.8h6.2v6.2h-6.2zM1331.5,1536.2h6.2v6.2h-6.2zM1333.7,1519.6h6.2v6.2h-6.2zM1335.9,1503h6.2v6.2h-6.2zM1338.1,1486.4h6.2v6.2h-6.2zM1340.3,1469.8h6.2v6.2h-6.2zM1342.5,1453.2h6.2v6.2h-6.2zM1344.8,1436.6h6.2v6.2h-6.2zM1347,1420h6.2v6.2h-6.2zM1349.2,1403.4h6.2v6.2h-6.2zM1357.2,1394.5h6.2v6.2h-6.2zM1373.8,1396.8h6.2v6.2h-6.2zM1390.4,1399.2h6.2v6.2h-6.2zM1398.9,1409.4h6.2v6.2h-6.2zM1400.8,1426h6.2v6.2h-6.2zM1402.7,1442.6h6.2v6.2h-6.2zM1404.6,1459.2h6.2v6.2h-6.2zM1406.5,1475.8h6.2v6.2h-6.2zM1408.4,1492.4h6.2v6.2h-6.2zM1410.3,1509h6.2v6.2h-6.2zM1412.2,1525.6h6.2v6.2h-6.2zM1414.1,1542.2h6.2v6.2h-6.2zM1416,1558.8h6.2v6.2h-6.2zM1417.9,1575.4h6.2v6.2h-6.2zM1419.8,1592h6.2v6.2h-6.2zM1421.7,1608.6h6.2v6.2h-6.2zM1423.6,1625.2h6.2v6.2h-6.2zM1425.5,1641.8h6.2v6.2h-6.2zM1427.4,1658.4h6.2v6.2h-6.2zM1429.3,1675h6.2v6.2h-6.2zM1431.2,1691.6h6.2v6.2h-6.2zM1433.1,1708.2h6.2v6.2h-6.2zM1435,1724.8h6.2v6.2h-6.2zM1436.9,1741.4h6.2v6.2h-6.2zM1438.8,1758h6.2v6.2h-6.2zM1440.7,1774.6h6.2v6.2h-6.2zM1442.6,1791.2h6.2v6.2h-6.2zM1444.5,1807.8h6.2v6.2h-6.2zM1449.8,1824.4h6.2v6.2h-6.2zM1456.7,1841h6.2v6.2h-6.2zM1463.7,1857.6h6.2v6.2h-6.2zM1470.6,1874.2h6.2v6.2h-6.2zM1477.5,1890.8h6.2v6.2h-6.2zM1484.5,1907.4h6.2v6.2h-6.2zM1491.4,1924h6.2v6.2h-6.2zM1501.5,1912.6h6.2v6.2h-6.2zM1512.3,1896h6.2v6.2h-6.2zM1523,1879.4h6.2v6.2h-6.2zM1533.7,1862.8h6.2v6.2h-6.2zM1541.2,1846.2h6.2v6.2h-6.2zM1544.5,1829.6h6.2v6.2h-6.2zM1547.8,1813h6.2v6.2h-6.2zM1551.1,1796.4h6.2v6.2h-6.2zM1554.3,1779.8h6.2v6.2h-6.2zM1557.6,1763.2h6.2v6.2h-6.2zM1560.9,1746.6h6.2v6.2h-6.2zM1564.2,1730h6.2v6.2h-6.2zM1567.4,1713.4h6.2v6.2h-6.2zM1570.7,1696.8h6.2v6.2h-6.2zM1574,1680.2h6.2v6.2h-6.2zM1577.3,1663.6h6.2v6.2h-6.2zM1580.5,1647h6.2v6.2h-6.2zM1583.8,1630.4h6.2v6.2h-6.2zM1587.1,1613.8h6.2v6.2h-6.2zM1591.8,1597.2h6.2v6.2h-6.2zM1596.5,1580.6h6.2v6.2h-6.2zM1601.2,1564h6.2v6.2h-6.2zM1605.9,1547.4h6.2v6.2h-6.2zM1610.6,1530.8h6.2v6.2h-6.2zM1615.4,1514.2h6.2v6.2h-6.2zM1620.1,1497.6h6.2v6.2h-6.2zM1624.8,1481h6.2v6.2h-6.2zM1629.5,1464.4h6.2v6.2h-6.2zM1634.2,1447.8h6.2v6.2h-6.2zM1637,1462.5h6.2v6.2h-6.2zM1639.6,1479.1h6.2v6.2h-6.2zM1642.3,1495.7h6.2v6.2h-6.2zM1644.9,1512.3h6.2v6.2h-6.2zM1647.6,1528.9h6.2v6.2h-6.2zM1650.2,1545.5h6.2v6.2h-6.2zM1652.9,1562.1h6.2v6.2h-6.2zM1655.5,1578.7h6.2v6.2h-6.2zM1658.2,1595.3h6.2v6.2h-6.2zM1660.8,1611.9h6.2v6.2h-6.2zM1663.5,1628.5h6.2v6.2h-6.2zM1666.1,1645.1h6.2v6.2h-6.2zM1668.8,1661.7h6.2v6.2h-6.2zM1671.4,1678.3h6.2v6.2h-6.2zM1674.1,1694.9h6.2v6.2h-6.2zM1676.7,1711.5h6.2v6.2h-6.2zM1679.4,1728.1h6.2v6.2h-6.2zM1682.7,1744.7h6.2v6.2h-6.2zM1693.4,1761.3h6.2v6.2h-6.2zM1704.1,1777.9h6.2v6.2h-6.2zM1714.8,1794.5h6.2v6.2h-6.2zM1725.5,1811.1h6.2v6.2h-6.2zM1732.2,1805.7h6.2v6.2h-6.2zM1736.8,1789.1h6.2v6.2h-6.2zM1741.4,1772.5h6.2v6.2h-6.2zM1745.9,1755.9h6.2v6.2h-6.2zM1750.5,1739.3h6.2v6.2h-6.2zM1755.1,1722.7h6.2v6.2h-6.2zM1759.7,1706.1h6.2v6.2h-6.2zM1764.3,1689.5h6.2v6.2h-6.2zM1768.8,1672.9h6.2v6.2h-6.2zM1773.4,1656.3h6.2v6.2h-6.2zM1777.9,1639.7h6.2v6.2h-6.2zM1782.2,1623.1h6.2v6.2h-6.2zM1786.4,1606.5h6.2v6.2h-6.2zM1790.7,1589.9h6.2v6.2h-6.2zM1794.9,1573.3h6.2v6.2h-6.2zM1799.2,1556.7h6.2v6.2h-6.2zM1803.5,1540.1h6.2v6.2h-6.2zM1807.7,1523.5h6.2v6.2h-6.2zM1812,1506.9h6.2v6.2h-6.2zM1816.3,1490.3h6.2v6.2h-6.2zM1820.5,1473.7h6.2v6.2h-6.2zM1825.3,1464.6h6.2v6.2h-6.2zM1831.9,1481.2h6.2v6.2h-6.2zM1838.5,1497.8h6.2v6.2h-6.2zM1845.1,1514.4h6.2v6.2h-6.2zM1851.7,1531h6.2v6.2h-6.2zM1858.3,1547.6h6.2v6.2h-6.2zM1864.9,1564.2h6.2v6.2h-6.2zM1871.3,1580.8h6.2v6.2h-6.2zM1875.4,1597.4h6.2v6.2h-6.2zM1879.4,1614h6.2v6.2h-6.2zM1883.4,1630.6h6.2v6.2h-6.2zM1887.5,1647.2h6.2v6.2h-6.2zM1891.5,1663.8h6.2v6.2h-6.2zM1895.5,1680.4h6.2v6.2h-6.2zM1899.6,1697h6.2v6.2h-6.2zM1903.6,1713.6h6.2v6.2h-6.2zM1907.6,1730.2h6.2v6.2h-6.2zM1911.6,1746.8h6.2v6.2h-6.2zM1915.7,1763.4h6.2v6.2h-6.2zM1922.5,1780h6.2v6.2h-6.2zM1935.8,1796.6h6.2v6.2h-6.2zM1949.1,1813.2h6.2v6.2h-6.2zM1962.5,1829.8h6.2v6.2h-6.2zM1977.8,1821.6h6.2v6.2h-6.2zM1993.9,1805h6.2v6.2h-6.2zM2009.9,1788.4h6.2v6.2h-6.2zM2015.2,1771.8h6.2v6.2h-6.2zM2017.7,1755.2h6.2v6.2h-6.2zM2020.3,1738.6h6.2v6.2h-6.2zM2022.8,1722h6.2v6.2h-6.2zM2025.4,1705.4h6.2v6.2h-6.2zM2027.9,1688.8h6.2v6.2h-6.2zM2030.5,1672.2h6.2v6.2h-6.2zM2033,1655.6h6.2v6.2h-6.2zM2035.5,1639h6.2v6.2h-6.2zM2038.1,1622.4h6.2v6.2h-6.2zM2040.6,1605.8h6.2v6.2h-6.2zM2043.2,1589.2h6.2v6.2h-6.2zM2045.7,1572.6h6.2v6.2h-6.2zM2048.3,1556h6.2v6.2h-6.2zM2050.8,1539.4h6.2v6.2h-6.2zM2053.4,1522.8h6.2v6.2h-6.2zM2055.9,1506.2h6.2v6.2h-6.2zM2058.4,1489.6h6.2v6.2h-6.2zM2061.4,1473h6.2v6.2h-6.2zM2066.1,1456.4h6.2v6.2h-6.2zM2070.9,1439.8h6.2v6.2h-6.2zM2075.6,1423.2h6.2v6.2h-6.2zM2080.3,1406.6h6.2v6.2h-6.2zM2085,1390h6.2v6.2h-6.2zM2089.8,1373.4h6.2v6.2h-6.2zM2094.5,1356.8h6.2v6.2h-6.2zM2099.2,1340.2h6.2v6.2h-6.2zM2103.9,1323.6h6.2v6.2h-6.2zM2108.1,1312.9h6.2v6.2h-6.2zM2109.7,1329.5h6.2v6.2h-6.2zM2111.3,1346.1h6.2v6.2h-6.2zM2112.9,1362.7h6.2v6.2h-6.2zM2114.5,1379.3h6.2v6.2h-6.2zM2116.1,1395.9h6.2v6.2h-6.2zM2117.7,1412.5h6.2v6.2h-6.2zM2119.3,1429.1h6.2v6.2h-6.2zM2120.9,1445.7h6.2v6.2h-6.2zM2122.5,1462.3h6.2v6.2h-6.2zM2124.1,1478.9h6.2v6.2h-6.2zM2125.8,1495.5h6.2v6.2h-6.2zM2127.4,1512.1h6.2v6.2h-6.2zM2129,1528.7h6.2v6.2h-6.2zM2130.6,1545.3h6.2v6.2h-6.2zM2132.2,1561.9h6.2v6.2h-6.2zM2133.8,1578.5h6.2v6.2h-6.2zM2135.4,1595.1h6.2v6.2h-6.2zM2137,1611.7h6.2v6.2h-6.2zM2138.6,1628.3h6.2v6.2h-6.2zM2140.2,1644.9h6.2v6.2h-6.2zM2141.8,1661.5h6.2v6.2h-6.2zM2143.4,1678.1h6.2v6.2h-6.2zM2145,1694.7h6.2v6.2h-6.2zM2146.6,1711.3h6.2v6.2h-6.2zM2148.2,1727.9h6.2v6.2h-6.2zM2149.8,1744.5h6.2v6.2h-6.2zM2151.4,1761.1h6.2v6.2h-6.2zM2153,1777.7h6.2v6.2h-6.2zM2154.6,1794.3h6.2v6.2h-6.2zM2159.2,1810.9h6.2v6.2h-6.2zM2165.4,1827.5h6.2v6.2h-6.2zM2171.6,1844.1h6.2v6.2h-6.2zM2177.8,1860.7h6.2v6.2h-6.2zM2184,1877.3h6.2v6.2h-6.2zM2190.2,1893.9h6.2v6.2h-6.2zM2196.5,1910.5h6.2v6.2h-6.2zM2202.8,1926.2h6.2v6.2h-6.2zM2214.6,1909.6h6.2v6.2h-6.2zM2226.4,1893h6.2v6.2h-6.2zM2238.2,1876.4h6.2v6.2h-6.2zM2249.9,1859.8h6.2v6.2h-6.2zM2255.1,1843.2h6.2v6.2h-6.2zM2260.4,1826.6h6.2v6.2h-6.2zM2265.6,1810h6.2v6.2h-6.2zM2270.9,1793.4h6.2v6.2h-6.2zM2276.1,1776.8h6.2v6.2h-6.2zM2281.3,1760.2h6.2v6.2h-6.2zM2286.6,1743.6h6.2v6.2h-6.2zM2291.8,1727h6.2v6.2h-6.2zM2297.1,1710.4h6.2v6.2h-6.2zM2301,1693.8h6.2v6.2h-6.2zM2304.8,1677.2h6.2v6.2h-6.2zM2308.7,1660.6h6.2v6.2h-6.2zM2312.6,1644h6.2v6.2h-6.2zM2316.4,1627.4h6.2v6.2h-6.2zM2320.3,1610.8h6.2v6.2h-6.2zM2324.2,1594.2h6.2v6.2h-6.2zM2328,1577.6h6.2v6.2h-6.2zM2331.9,1561h6.2v6.2h-6.2zM2335.8,1544.4h6.2v6.2h-6.2zM2339.6,1527.8h6.2v6.2h-6.2zM2343.5,1511.2h6.2v6.2h-6.2zM2349.6,1519.1h6.2v6.2h-6.2zM2356.5,1535.7h6.2v6.2h-6.2zM2363.5,1552.3h6.2v6.2h-6.2zM2370.4,1568.9h6.2v6.2h-6.2zM2377.4,1585.5h6.2v6.2h-6.2zM2384.3,1602.1h6.2v6.2h-6.2zM2391.2,1618.7h6.2v6.2h-6.2zM2395.9,1635.3h6.2v6.2h-6.2zM2400.4,1651.9h6.2v6.2h-6.2zM2404.9,1668.5h6.2v6.2h-6.2zM2409.4,1685.1h6.2v6.2h-6.2zM2413.9,1701.7h6.2v6.2h-6.2zM2418.4,1718.3h6.2v6.2h-6.2zM2422.9,1734.9h6.2v6.2h-6.2zM2427.4,1751.5h6.2v6.2h-6.2zM2431.9,1768.1h6.2v6.2h-6.2zM2436.4,1784.7h6.2v6.2h-6.2z"/>
<polyline class="non" points="288.6,1749.8 312.3,1743.1 359.6,1721.5 406.9,1685.2 454.3,1646.5 501.6,1621.5 548.9,1609.9 596.3,1615.9 643.6,1631.5 690.9,1648.2 738.3,1665.8 785.6,1683.2 832.9,1703.2 880.3,1724.8 927.6,1742.1 974.9,1753.6 1022.3,1747.1 1069.6,1718.2 1116.9,1671.5 1164.3,1631.5 1211.6,1604.9 1258.9,1594.9 1306.3,1603.2 1353.6,1629.9 1400.9,1654.9 1448.3,1674.8 1495.6,1694.8 1542.9,1713.2 1590.3,1731.5 1637.6,1744.8 1684.9,1749.8 1732.3,1743.1 1779.6,1711.5 1826.9,1674.8 1874.3,1633.2 1921.6,1603.2 1968.9,1591.5 2016.3,1596.5 2063.6,1618.2 2110.9,1649.9 2158.3,1679.8 2205.6,1703.2 2252.9,1723.2 2300.3,1738.1 2347.6,1748.1 2394.9,1744.8 2442.3,1733.1"/>
<g class="obs">
<circle cx="287.4" cy="1748" r="12.8"/>
<circle cx="310.6" cy="1724.8" r="12.8"/>
<circle cx="327.6" cy="1712.2" r="12.8"/>
<circle cx="346.6" cy="1689.8" r="12.8"/>
<circle cx="362.3" cy="1674.8" r="12.8"/>
<circle cx="380.9" cy="1653.9" r="12.8"/>
<circle cx="393.9" cy="1635.9" r="12.8"/>
<circle cx="404.3" cy="1617.2" r="12.8"/>
<circle cx="438.9" cy="1602.2" r="12.8"/>
<circle cx="466.6" cy="1584.9" r="12.8"/>
<circle cx="511.5" cy="1595.9" r="12.8"/>
<circle cx="515.9" cy="1617.5" r="12.8"/>
<circle cx="548.2" cy="1627.2" r="12.8"/>
<circle cx="568.9" cy="1638.2" r="12.8"/>
<circle cx="592.2" cy="1653.9" r="12.8"/>
<circle cx="637.2" cy="1659.9" r="12.8"/>
<circle cx="680.8" cy="1674.8" r="12.8"/>
<circle cx="727.1" cy="1675.8" r="12.8"/>
<circle cx="779.8" cy="1674.8" r="12.8"/>
<circle cx="810.4" cy="1691.5" r="12.8"/>
<circle cx="829.7" cy="1703.2" r="12.8"/>
<circle cx="839.1" cy="1717.5" r="12.8"/>
<circle cx="873" cy="1728.2" r="12.8"/>
<circle cx="891.4" cy="1743.8" r="12.8"/>
<circle cx="902" cy="1759.8" r="12.8"/>
<circle cx="918" cy="1776.5" r="12.8"/>
<circle cx="943.3" cy="1779.8" r="12.8"/>
<circle cx="968.3" cy="1789.8" r="12.8"/>
<circle cx="1009" cy="1779.8" r="12.8"/>
<circle cx="1027.6" cy="1769.1" r="12.8"/>
<circle cx="1041" cy="1749.8" r="12.8"/>
<circle cx="1063.9" cy="1718.2" r="12.8"/>
<circle cx="1074.3" cy="1691.5" r="12.8"/>
<circle cx="1090.6" cy="1671.5" r="12.8"/>
<circle cx="1106.6" cy="1654.2" r="12.8"/>
<circle cx="1119.9" cy="1635.9" r="12.8"/>
<circle cx="1134.9" cy="1621.5" r="12.8"/>
<circle cx="1158.2" cy="1602.5" r="12.8"/>
<circle cx="1187.5" cy="1603.2" r="12.8"/>
<circle cx="1226.5" cy="1591.5" r="12.8"/>
<circle cx="1247.2" cy="1614.9" r="12.8"/>
<circle cx="1275.5" cy="1632.2" r="12.8"/>
<circle cx="1307.5" cy="1649.9" r="12.8"/>
<circle cx="1362.5" cy="1664.8" r="12.8"/>
<circle cx="1400.8" cy="1675.8" r="12.8"/>
<circle cx="1435.4" cy="1679.8" r="12.8"/>
<circle cx="1486.4" cy="1689.8" r="12.8"/>
<circle cx="1518.7" cy="1696.5" r="12.8"/>
<circle cx="1540.7" cy="1703.8" r="12.8"/>
<circle cx="1565.4" cy="1724.8" r="12.8"/>
<circle cx="1589" cy="1728.2" r="12.8"/>
<circle cx="1613.3" cy="1742.5" r="12.8"/>
<circle cx="1633.3" cy="1761.5" r="12.8"/>
<circle cx="1660" cy="1770.5" r="12.8"/>
<circle cx="1683.3" cy="1779.8" r="12.8"/>
<circle cx="1722.6" cy="1769.1" r="12.8"/>
<circle cx="1734.9" cy="1754.1" r="12.8"/>
<circle cx="1749.9" cy="1743.1" r="12.8"/>
<circle cx="1772.3" cy="1722.5" r="12.8"/>
<circle cx="1781.6" cy="1712.5" r="12.8"/>
<circle cx="1800.6" cy="1696.5" r="12.8"/>
<circle cx="1809.9" cy="1674.8" r="12.8"/>
<circle cx="1826.6" cy="1659.9" r="12.8"/>
<circle cx="1832.6" cy="1632.5" r="12.8"/>
<circle cx="1863.2" cy="1607.2" r="12.8"/>
<circle cx="1883.9" cy="1599.9" r="12.8"/>
<circle cx="1913.9" cy="1589.2" r="12.8"/>
<circle cx="1954.2" cy="1600.9" r="12.8"/>
<circle cx="1994" cy="1617.5" r="12.8"/>
<circle cx="2021.6" cy="1631.5" r="12.8"/>
<circle cx="2037.3" cy="1649.2" r="12.8"/>
<circle cx="2074.6" cy="1668.2" r="12.8"/>
<circle cx="2103.3" cy="1680.8" r="12.8"/>
<circle cx="2139.6" cy="1689.8" r="12.8"/>
<circle cx="2179.9" cy="1685.8" r="12.8"/>
<circle cx="2233.9" cy="1689.8" r="12.8"/>
<circle cx="2252.9" cy="1699.8" r="12.8"/>
<circle cx="2278.8" cy="1705.8" r="12.8"/>
<circle cx="2287.8" cy="1728.2" r="12.8"/>
<circle cx="2303.8" cy="1735.8" r="12.8"/>
<circle cx="2323.2" cy="1746.5" r="12.8"/>
<circle cx="2335.5" cy="1769.1" r="12.8"/>
<circle cx="2352.1" cy="1783.1" r="12.8"/>
<circle cx="2375.5" cy="1785.8" r="12.8"/>
<circle cx="2416.4" cy="1785.8" r="12.8"/>
</g>
</g>
</g>
</svg>
</body>
</html>
